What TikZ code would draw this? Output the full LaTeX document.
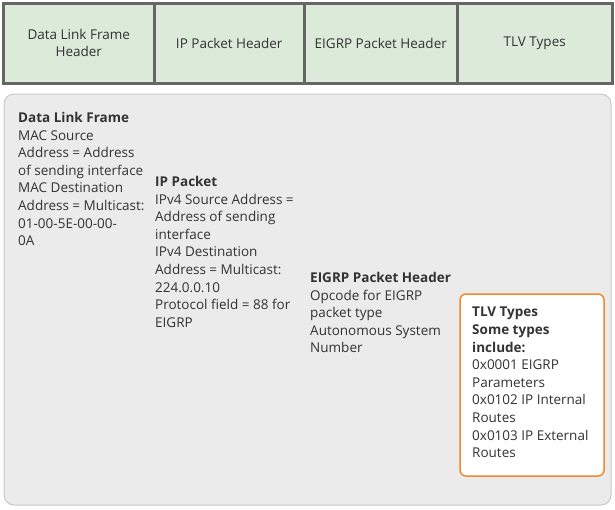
\documentclass[tikz,border=0pt]{standalone}
\usepackage{fontspec}
\setmainfont{Open Sans}
\definecolor{hdr}{HTML}{DCEBD9}
\definecolor{panel}{HTML}{EBEBEB}
\definecolor{pborder}{HTML}{C8C8C8}
\definecolor{frame}{HTML}{666666}
\definecolor{txt}{HTML}{333333}
\definecolor{orng}{HTML}{F08A30}
\begin{document}
\begin{tikzpicture}[x=1pt,y=-1pt,
  hbox/.style={draw=frame,line width=2.5pt,fill=hdr,minimum height=80pt,inner sep=0pt,text=txt,font=\fontsize{13.5}{17}\selectfont,align=center},
  col/.style={anchor=north west,inner sep=0pt,align=left,text=txt,font=\fontsize{13.5}{17.6}\selectfont}]
\useasboundingbox (0,0) rectangle (615,509);
\node[hbox,minimum width=151pt,anchor=north west] (h1) at (2,2) {Data Link Frame\\Header};
\node[hbox,minimum width=150pt,anchor=north west] (h2) at (153,2) {IP Packet Header};
\node[hbox,minimum width=153pt,anchor=north west] (h3) at (303,2) {EIGRP Packet Header};
\node[hbox,minimum width=155pt,anchor=north west] (h4) at (456,2) {TLV Types};
\draw[pborder,fill=panel,line width=1pt,rounded corners=10pt] (4,94) rectangle (611,505);
\draw[orng,fill=white,line width=1.5pt,rounded corners=6pt] (460,294) rectangle (604,476);
\node[col] (c1) at (18,112) {\textbf{Data Link Frame}\\MAC Source\\Address = Address\\of sending interface\\MAC Destination\\Address = Multicast:\\01-00-5E-00-00-\\0A};
\node[col] (c2) at (155,176) {\textbf{IP Packet}\\IPv4 Source Address =\\Address of sending\\interface\\IPv4 Destination\\Address = Multicast:\\224.0.0.10\\Protocol field = 88 for\\EIGRP};
\node[col] (c3) at (310,272) {\textbf{EIGRP Packet Header}\\Opcode for EIGRP\\packet type\\Autonomous System\\Number};
\node[col] (c4) at (472,307) {\textbf{TLV Types}\\\textbf{Some types}\\\textbf{include:}\\0x0001 EIGRP\\Parameters\\0x0102 IP Internal\\Routes\\0x0103 IP External\\Routes};
\end{tikzpicture}
\end{document}
